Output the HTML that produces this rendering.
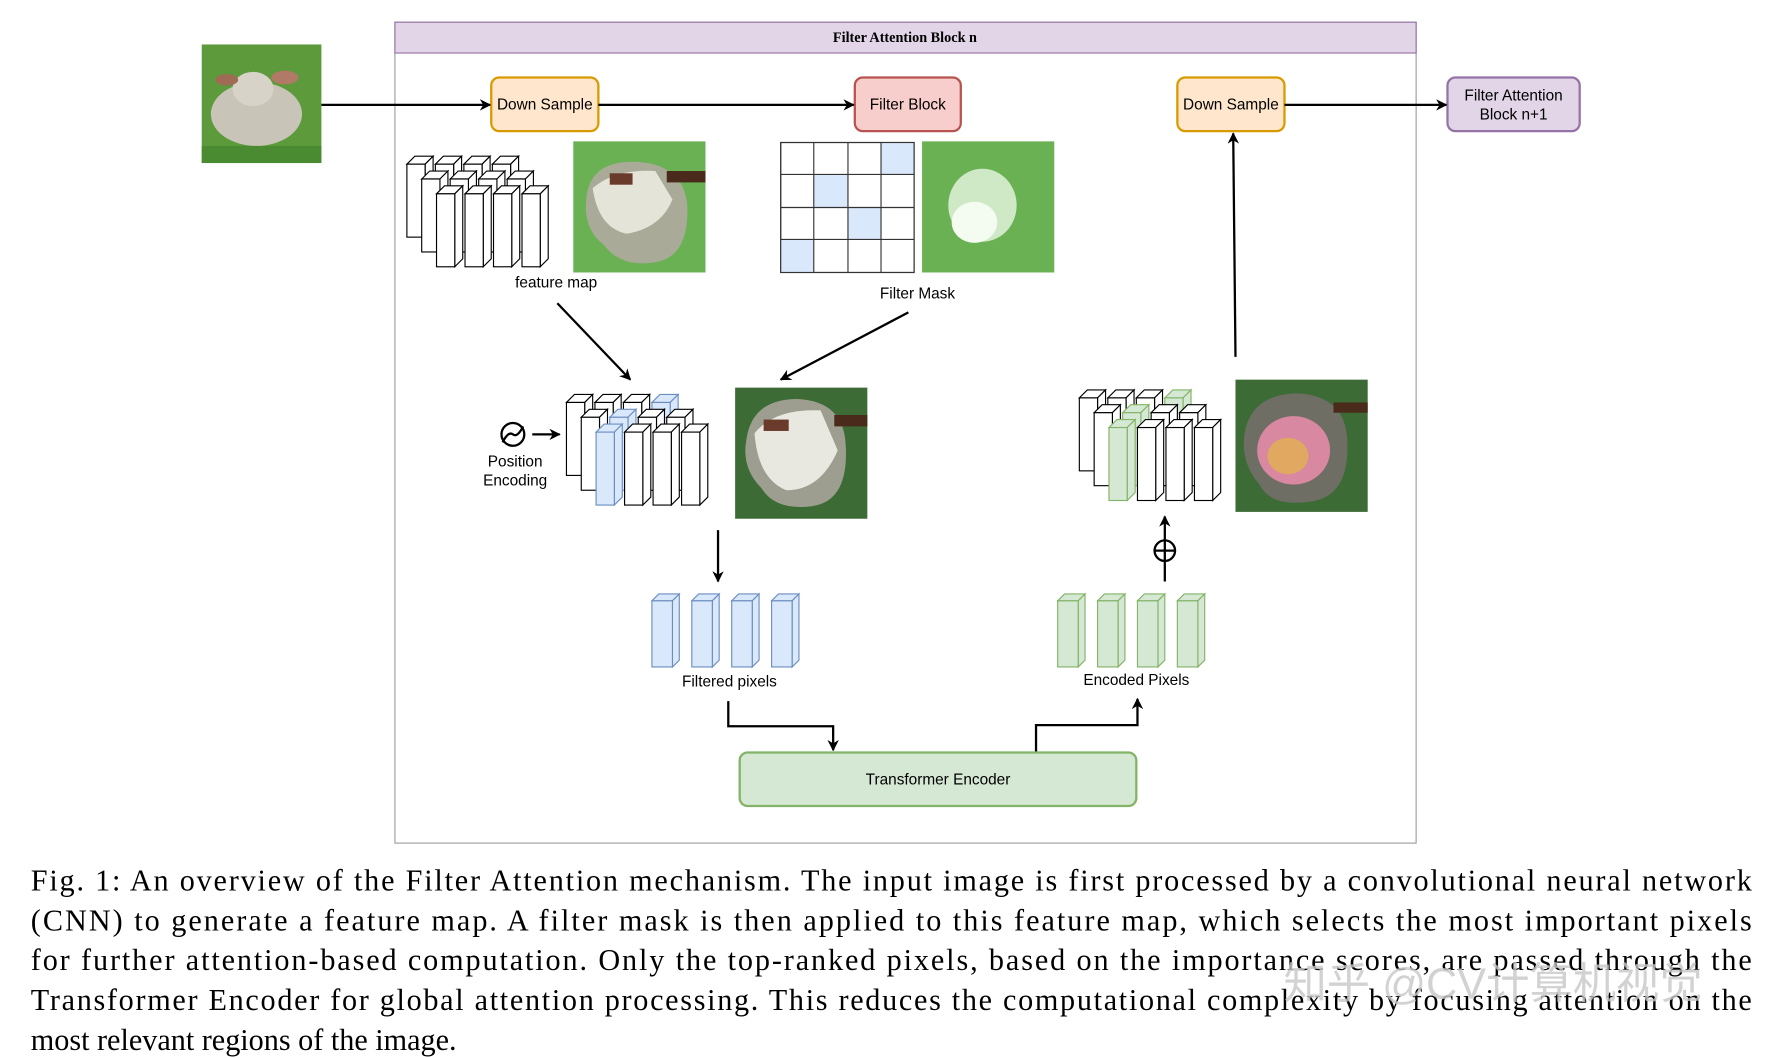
<!DOCTYPE html>
<html><head><meta charset="utf-8"><style>
html,body{margin:0;padding:0;background:#fff;width:1778px;height:1058px;overflow:hidden}
svg{display:block}
.s{font-family:"Liberation Sans",sans-serif;font-size:13.5px;fill:#000}
.cap{font-family:"Liberation Serif",serif;font-size:26.5px;fill:#000}
</style></head><body>
<svg id="g" width="1778" height="1058" viewBox="0 0 1560 928" preserveAspectRatio="none" xmlns="http://www.w3.org/2000/svg">
<defs><marker id="a" markerWidth="10" markerHeight="10" refX="9" refY="5" orient="auto" markerUnits="userSpaceOnUse"><path d="M0,0 L10,5 L0,10 L3,5 Z" fill="#000"/></marker></defs>
<rect x="177" y="39" width="105" height="104" fill="#5c9a3c"/>
<ellipse cx="225" cy="100" rx="40" ry="28" fill="#c9c4b8"/>
<ellipse cx="222" cy="78" rx="18" ry="15" fill="#d8d3c8"/>
<ellipse cx="199" cy="70" rx="10" ry="5" fill="#a06b55"/>
<ellipse cx="250" cy="68" rx="12" ry="6" fill="#b07a66"/>
<rect x="177" y="128" width="105" height="15" fill="#4a8a30"/>
<rect x="346.5" y="19.5" width="896" height="720" fill="#fff" stroke="#9e9e9e"/>
<rect x="346.5" y="19.5" width="896" height="27" fill="#e1d5e7" stroke="#9673a6"/>
<text x="794" y="37" text-anchor="middle" style="font-family:'Liberation Serif',serif;font-weight:bold;font-size:12.5px">Filter Attention Block n</text>
<rect x="431" y="68" width="94" height="47" rx="7" fill="#ffe6cc" stroke="#d79b00" stroke-width="2"/>
<text class="s" x="478" y="96" text-anchor="middle">Down Sample</text>
<rect x="750" y="68" width="93" height="47" rx="7" fill="#f8cecc" stroke="#b85450" stroke-width="2"/>
<text class="s" x="796.5" y="96" text-anchor="middle">Filter Block</text>
<rect x="1033" y="68" width="94" height="47" rx="7" fill="#ffe6cc" stroke="#d79b00" stroke-width="2"/>
<text class="s" x="1080" y="96" text-anchor="middle">Down Sample</text>
<rect x="1270" y="68" width="116" height="47" rx="7" fill="#e1d5e7" stroke="#9673a6" stroke-width="2"/>
<text class="s" x="1328" y="88" text-anchor="middle">Filter Attention</text>
<text class="s" x="1328" y="105" text-anchor="middle">Block n+1</text>
<g stroke="#000" stroke-width="2" fill="none" marker-end="url(#a)">
<line x1="282" y1="92" x2="430" y2="92"/>
<line x1="525" y1="92" x2="749" y2="92"/>
<line x1="1127" y1="92" x2="1269" y2="92"/>
<line x1="1084" y1="313" x2="1082" y2="117"/>
<line x1="489" y1="266" x2="553" y2="333"/>
<line x1="797" y1="274" x2="685" y2="333"/>
<line x1="630" y1="465" x2="630" y2="510"/>
<line x1="1022" y1="510" x2="1022" y2="453"/>
<line x1="467" y1="381" x2="491" y2="381"/>
<polyline points="639,615 639,637 731,637 731,658"/>
<polyline points="909,660 909,636 998,636 998,613"/>
</g>
<circle cx="450" cy="381" r="10" fill="none" stroke="#000" stroke-width="2"/>
<path d="M441,388 Q446,378 450,381 T459,374" fill="none" stroke="#000" stroke-width="2"/>
<text class="s" x="452" y="409" text-anchor="middle">Position</text>
<text class="s" x="452" y="426" text-anchor="middle">Encoding</text>
<circle cx="1022" cy="483" r="9" fill="#fff" stroke="#000" stroke-width="2"/>
<line x1="1013" y1="483" x2="1031" y2="483" stroke="#000" stroke-width="2"/>
<line x1="1022" y1="474" x2="1022" y2="492" stroke="#000" stroke-width="2"/>
<rect x="503" y="124" width="116" height="115" fill="#6ab154"/>
<path d="M515,170 Q520,140 560,142 Q600,145 603,180 Q605,225 575,230 Q545,235 530,215 Q510,200 515,170Z" fill="#a9aa98"/>
<path d="M520,165 Q540,148 575,150 L590,175 Q580,200 550,205 Q525,200 520,165Z" fill="#e4e4d8"/>
<rect x="535" y="152" width="20" height="10" fill="#6a3a2a"/><rect x="585" y="150" width="34" height="10" fill="#4a2a1a"/>
<rect x="685" y="125" width="117" height="114" fill="#fff" stroke="#333"/>
<g fill="#dae8fc"><rect x="773" y="125" width="29" height="28"/><rect x="714" y="153" width="30" height="29"/><rect x="744" y="182" width="29" height="28"/><rect x="685" y="210" width="29" height="29"/></g>
<g stroke="#333" fill="none"><path d="M714,125V239M744,125V239M773,125V239M685,153H802M685,182H802M685,210H802"/><rect x="685" y="125" width="117" height="114"/></g>
<rect x="809" y="124" width="116" height="115" fill="#6ab154"/>
<ellipse cx="862" cy="180" rx="30" ry="32" fill="#cfe8c5"/><ellipse cx="855" cy="195" rx="20" ry="18" fill="#f4fbf0"/>
<rect x="645" y="340" width="116" height="115" fill="#3d6b36"/>
<path d="M655,385 Q660,350 700,350 Q740,352 742,390 Q745,440 712,444 Q680,448 668,428 Q650,410 655,385Z" fill="#9d9e90"/>
<path d="M662,380 Q680,358 720,360 L735,395 Q720,430 690,430 Q665,420 662,380Z" fill="#e8e8e0"/>
<rect x="670" y="368" width="22" height="10" fill="#6a3a2a"/><rect x="732" y="364" width="29" height="10" fill="#4a2a1a"/>
<rect x="1084" y="333" width="116" height="116" fill="#3d6b36"/>
<path d="M1092,380 Q1098,345 1140,345 Q1180,348 1182,385 Q1185,435 1150,440 Q1115,445 1105,425 Q1088,405 1092,380Z" fill="#6e6e64"/>
<ellipse cx="1135" cy="395" rx="32" ry="30" fill="#d888a0"/><ellipse cx="1130" cy="400" rx="18" ry="16" fill="#e0a860"/>
<rect x="1170" y="353" width="30" height="9" fill="#4a2a1a"/>
<text class="s" x="488" y="252" text-anchor="middle">feature map</text>
<text class="s" x="805" y="262" text-anchor="middle">Filter Mask</text>
<text class="s" x="640" y="602" text-anchor="middle">Filtered pixels</text>
<text class="s" x="997" y="601" text-anchor="middle">Encoded Pixels</text>
<rect x="649" y="660" width="348" height="47" rx="7" fill="#d5e8d4" stroke="#82b366" stroke-width="2"/>
<text class="s" x="823" y="688" text-anchor="middle">Transformer Encoder</text>
<text class="cap" x="27" y="781" textLength="1510" lengthAdjust="spacing">Fig. 1: An overview of the Filter Attention mechanism. The input image is first processed by a convolutional neural network</text>
<text class="cap" x="27" y="816" textLength="1510" lengthAdjust="spacing">(CNN) to generate a feature map. A filter mask is then applied to this feature map, which selects the most important pixels</text>
<text class="cap" x="27" y="851" textLength="1510" lengthAdjust="spacing">for further attention-based computation. Only the top-ranked pixels, based on the importance scores, are passed through the</text>
<text class="cap" x="27" y="886" textLength="1510" lengthAdjust="spacing">Transformer Encoder for global attention processing. This reduces the computational complexity by focusing attention on the</text>
<text class="cap" x="27" y="921">most relevant regions of the image.</text>
<text x="1310" y="876" text-anchor="middle" style="font-family:'Liberation Sans','Noto Sans CJK SC',sans-serif;font-size:38px;fill:#c8c8c8;opacity:0.8">知乎 @CV计算机视觉</text>
<g id="cubes"></g>
</svg>
<script>
var NS="http://www.w3.org/2000/svg",G=document.getElementById("cubes");
function el(t,a){var e=document.createElementNS(NS,t);for(var k in a)e.setAttribute(k,a[k]);G.appendChild(e);}
function prism(x,y,w,h,d,f,s){
 el("polygon",{points:[x,y,x+d,y-d,x+w+d,y-d,x+w,y].join(","),fill:f,stroke:s});
 el("polygon",{points:[x+w,y,x+w+d,y-d,x+w+d,y+h-d,x+w,y+h].join(","),fill:f,stroke:s});
 el("rect",{x:x,y:y,width:w,height:h,fill:f,stroke:s});
}
function stack(x0,y0,col){
 for(var r=0;r<3;r++)for(var c=0;c<4;c++){
  var x=x0+r*13+c*25,y=y0+r*13+7;
  var f="#fff",s="#000";
  if(col&&((r==0&&c==3)||(r==1&&c==1)||(r==2&&c==0))){f=col[0];s=col[1];}
  prism(x,y,16,64,7,f,s);
 }
}
stack(357,137,null);
stack(497,346,["#dae8fc","#6c8ebf"]);
stack(947,342,["#d5e8d4","#82b366"]);
for(var i=0;i<4;i++){prism(572+i*35,527,18,58,6,"#dae8fc","#6c8ebf");prism(928+i*35,527,18,58,6,"#d5e8d4","#82b366");}
</script>
</body></html>
